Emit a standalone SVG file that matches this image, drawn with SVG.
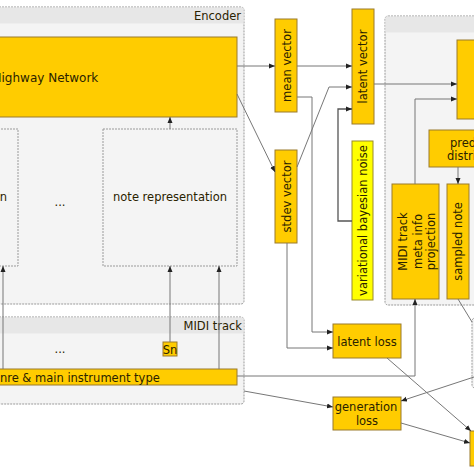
<svg xmlns="http://www.w3.org/2000/svg" width="474" height="474" viewBox="0 0 474 474">
<style>
.grp{fill:#f4f4f4;stroke:#9a9a9a;stroke-width:1;stroke-dasharray:2 1}
.hdr{fill:#e7e7e7}
.gold{fill:#ffcc00;stroke:#9a7b2c;stroke-width:1}
.yel{fill:#ffff00;stroke:#9a8b2c;stroke-width:1}
.t{font-family:"DejaVu Sans",sans-serif;font-size:11.5px;fill:#2a2200}
.m{text-anchor:middle}
.e{text-anchor:end}
.c{fill:none;stroke:#777;stroke-width:1}
</style>
<defs>
<marker id="a" markerUnits="userSpaceOnUse" markerWidth="6" markerHeight="6" refX="6" refY="3" orient="auto">
<path d="M0,0.5 L6,3 L0,5.5 z" fill="#222"/>
</marker>
</defs>
<rect width="474" height="474" fill="#fff"/>

<g id="encoder">
<rect class="grp" x="-10" y="7" width="254" height="297" rx="3"/>
<rect class="hdr" x="-10" y="7.5" width="253.5" height="16"/>
<text class="t e" x="241" y="20">Encoder</text>
</g>
<g id="midi-track">
<rect class="grp" x="-10" y="317" width="254" height="87" rx="3"/>
<rect class="hdr" x="-10" y="317.5" width="253.5" height="16"/>
<text class="t e" x="242" y="330">MIDI track</text>
</g>
<g id="decoder">
<rect class="grp" x="385" y="16" width="110" height="289" rx="3"/>
<rect class="hdr" x="385.5" y="16.5" width="110" height="16"/>
</g>
<g id="right-group">
<rect class="grp" x="472" y="318" width="20" height="70" rx="3"/>
</g>

<g id="highway">
<rect class="gold" x="-10" y="37" width="247" height="80"/>
<text class="t" x="-7.5" y="82" style="font-size:12px">Highway Network</text>
</g>
<g id="note-rep-left">
<rect class="grp" x="-116" y="129" width="134" height="137"/>
<text class="t m" x="-50" y="201">note representation</text>
</g>
<g id="note-dots">
<text class="t m" x="60" y="206">...</text>
</g>
<g id="note-rep">
<rect class="grp" x="103" y="129" width="134" height="137"/>
<text class="t m" x="170" y="201">note representation</text>
</g>
<g id="track-dots">
<text class="t m" x="60" y="353">...</text>
</g>
<g id="sn">
<rect class="gold" x="163" y="342" width="14" height="14"/>
<text class="t m" x="170" y="354">Sn</text>
</g>
<g id="genre">
<rect class="gold" x="-10" y="369" width="247" height="16"/>
<text class="t" x="-14.5" y="382">genre &amp; main instrument type</text>
</g>

<g id="mean-vector">
<rect class="gold" x="275" y="19" width="22" height="93"/>
<text class="t m" transform="translate(290.5,65.5) rotate(-90)">mean vector</text>
</g>
<g id="stdev-vector">
<rect class="gold" x="275" y="150" width="22" height="93"/>
<text class="t m" transform="translate(290.5,196.5) rotate(-90)">stdev vector</text>
</g>
<g id="latent-vector">
<rect class="gold" x="352" y="9" width="22" height="115"/>
<text class="t m" transform="translate(367,66.5) rotate(-90)">latent vector</text>
</g>
<g id="noise">
<rect class="yel" x="352" y="141" width="21" height="159"/>
<text class="t m" transform="translate(366.5,220.5) rotate(-90)">variational bayesian noise</text>
</g>

<g id="decoder-box">
<rect class="gold" x="457" y="40" width="30" height="79"/>
</g>
<g id="pred-distr">
<rect class="gold" x="429" y="130" width="60" height="37"/>
<text class="t" x="450" y="147">predicted</text>
<text class="t" x="447" y="160">distribution</text>
</g>
<g id="meta-proj">
<rect class="gold" x="392" y="184" width="47" height="115"/>
<text class="t m" transform="translate(407,241.5) rotate(-90)">MIDI track</text>
<text class="t m" transform="translate(421.5,241.5) rotate(-90)">meta info</text>
<text class="t m" transform="translate(435,241.5) rotate(-90)">projection</text>
</g>
<g id="sampled-note">
<rect class="gold" x="447" y="184" width="22" height="115"/>
<text class="t m" transform="translate(462,241.5) rotate(-90)">sampled note</text>
</g>

<g id="latent-loss">
<rect class="gold" x="333" y="324" width="68" height="34"/>
<text class="t m" x="367" y="345.5">latent loss</text>
</g>
<g id="generation-loss">
<rect class="gold" x="333" y="397" width="68" height="33"/>
<text class="t m" x="366" y="411">generation</text>
<text class="t m" x="367" y="425">loss</text>
</g>
<g id="output-box">
<rect class="gold" x="470" y="431" width="20" height="35"/>
</g>

<g id="connectors">
<path class="c" d="M237,66 H275" marker-end="url(#a)"/>
<path class="c" d="M237,94 L275,172" marker-end="url(#a)"/>
<path class="c" d="M297,66 H352" marker-end="url(#a)"/>
<path class="c" d="M297,167 L329,87 H352" marker-end="url(#a)"/>
<path class="c" d="M352,221 H338 V109 H352" style="stroke:#555;stroke-width:1.3" marker-end="url(#a)"/>
<path class="c" d="M297,97 H312 V332 H333" marker-end="url(#a)"/>
<path class="c" d="M287,243 V348 H333" marker-end="url(#a)"/>
<path class="c" d="M374,84 H457" marker-end="url(#a)"/>
<path class="c" d="M415,184 V99 H457" marker-end="url(#a)"/>
<path class="c" d="M458,167 V184" marker-end="url(#a)"/>
<path class="c" d="M237,376 H415 V299" marker-end="url(#a)"/>
<path class="c" d="M244,391 L333,407" marker-end="url(#a)"/>
<path class="c" d="M387,358 L471,431" marker-end="url(#a)"/>
<path class="c" d="M401,423 L470,443" marker-end="url(#a)"/>
<path class="c" d="M474,377 L401,401" marker-end="url(#a)"/>
<path class="c" d="M458,299 L472,322"/>
<path class="c" d="M170,129 V117" marker-end="url(#a)"/>
<path class="c" d="M170,342 V266" marker-end="url(#a)"/>
<path class="c" d="M219,369 V266" marker-end="url(#a)"/>
<path class="c" d="M3,369 V266" marker-end="url(#a)"/>
</g>
</svg>
